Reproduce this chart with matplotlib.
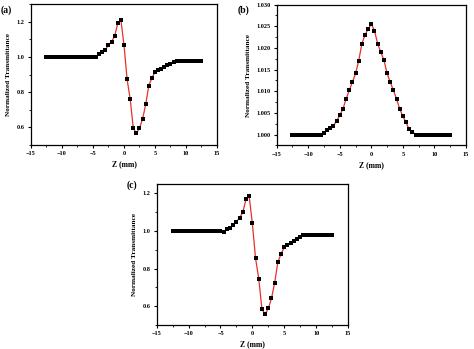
import matplotlib
matplotlib.use('Agg')
import matplotlib.pyplot as plt
import numpy as np
from matplotlib.ticker import MultipleLocator

plt.rcParams['font.family'] = 'Liberation Serif'
plt.rcParams['font.weight'] = 'bold'

# z positions (mm), 0.5 mm steps
z = np.arange(-12.5, 12.51, 0.5)

# panel (a)
ta_mid = [1.0, 1.014, 1.025, 1.04, 1.067, 1.086, 1.12, 1.19, 1.21, 1.067,
          0.873, 0.76, 0.596, 0.566, 0.596, 0.648, 0.73, 0.837, 0.88, 0.915,
          0.925, 0.934, 0.944, 0.953, 0.96, 0.97, 0.974]
ta = [1.0] * 16 + ta_mid + [0.974] * 8

# panel (b)
tb_mid = [1.0004, 1.001, 1.0015, 1.002, 1.0032, 1.0044, 1.0059, 1.0082, 1.0102,
          1.0121, 1.0141, 1.017, 1.021, 1.023, 1.0244, 1.0255, 1.024, 1.021,
          1.019, 1.0172, 1.0141, 1.0121, 1.0102, 1.0082, 1.0059, 1.0042,
          1.0028, 1.0012, 1.0006, 1.0]
tb = [1.0] * 10 + tb_mid + [1.0] * 11

# panel (c)
tc_mid = [0.999, 0.998, 0.998, 0.997, 1.01, 1.015, 1.03, 1.05, 1.07, 1.10,
          1.168, 1.185, 1.04, 0.855, 0.747, 0.585, 0.556, 0.588, 0.641, 0.725,
          0.835, 0.878, 0.913, 0.924, 0.937, 0.946, 0.958, 0.97, 0.978, 0.98]
tc = [1.0] * 13 + tc_mid + [0.978] * 8

fig = plt.figure(figsize=(4.74, 3.49), dpi=100)

def panel(rect, y, ylim, ymajor, yfmt, label, lab_xy):
    ax = fig.add_axes(rect)
    ax.plot(z, y, '-', color='#e8302a', lw=0.9, marker='s', ms=2.6,
            mfc='black', mec='black', mew=0)
    ax.set_xlim(-15, 15)
    ax.set_ylim(*ylim)
    ax.xaxis.set_major_locator(MultipleLocator(5))
    ax.xaxis.set_minor_locator(MultipleLocator(2.5))
    ax.yaxis.set_major_locator(MultipleLocator(ymajor))
    ax.yaxis.set_minor_locator(MultipleLocator(ymajor / 2))
    ax.yaxis.set_major_formatter(yfmt)
    ax.tick_params(which='major', length=2.5, width=0.8, labelsize=4.5, pad=2)
    ax.tick_params(which='minor', length=1.5, width=0.6)
    for s in ax.spines.values():
        s.set_linewidth(0.9)
    ax.set_xlabel('Z (mm)', fontsize=5.5, fontweight='bold', labelpad=3)
    ax.set_ylabel('Normalized Transmittance', fontsize=5.2, fontweight='bold', labelpad=4)
    fig.text(lab_xy[0], lab_xy[1], label, fontsize=7, fontweight='bold',
             ha='left', va='center')
    return ax

panel([0.0654, 0.5845, 0.3924, 0.404], ta, (0.5, 1.3), 0.2, '{x:.1f}', '(a)', (0.002, 0.972))
panel([0.5837, 0.5836, 0.3994, 0.403], tb, (0.9975, 1.030), 0.005, '{x:.3f}', '(b)', (0.502, 0.972))
panel([0.3306, 0.0688, 0.4036, 0.404], tc, (0.5, 1.25), 0.2, '{x:.1f}', '(c)', (0.268, 0.47))

fig.savefig('out.png', dpi=100)
